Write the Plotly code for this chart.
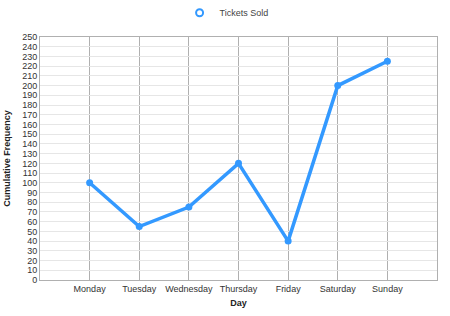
import plotly.graph_objects as go

days = ["Monday", "Tuesday", "Wednesday", "Thursday", "Friday", "Saturday", "Sunday"]
tickets = [100, 55, 75, 120, 40, 200, 225]
y_ticks = list(range(0, 251, 10))

blue = "#3399ff"
fig = go.Figure()
fig.add_trace(go.Scatter(
    x=days, y=tickets, mode="lines+markers", name="Tickets Sold",
    line=dict(color=blue, width=3.5),
    marker=dict(color=blue, size=7),
    showlegend=False,
))
fig.add_trace(go.Scatter(
    x=[None], y=[None], mode="markers", name="Tickets Sold",
    marker=dict(color="white", size=7, line=dict(color=blue, width=2)),
))

fig.update_layout(
    width=450, height=316,
    margin=dict(l=40, r=13, t=37, b=36, autoexpand=False),
    paper_bgcolor="white", plot_bgcolor="white",
    font=dict(family="Liberation Sans, Arial, sans-serif", size=9, color="#333"),
    showlegend=True,
    legend=dict(orientation="h", x=0.47, xanchor="center", y=1.1, yanchor="middle",
                itemwidth=30, font=dict(size=9, color="#444")),
    xaxis=dict(
        type="category", range=[-1, 7],
        showgrid=True, gridcolor="#b0b0b0", gridwidth=1,
        showline=True, linecolor="#b0b0b0", mirror=True,
        ticks="", tickfont=dict(size=9, color="#333"),
        title=dict(text="<b>Day</b>", font=dict(size=9, color="#222"), standoff=6),
        zeroline=False,
    ),
    yaxis=dict(
        range=[0, 250], tickvals=y_ticks, ticktext=[str(v) for v in y_ticks],
        showgrid=True, gridcolor="#e6e6e6", gridwidth=1,
        showline=True, linecolor="#b0b0b0", mirror=True,
        ticks="", tickfont=dict(size=9, color="#333"),
        title=dict(text="<b>Cumulative Frequency</b>", font=dict(size=9, color="#222"), standoff=10),
        zeroline=False,
    ),
)
fig.write_html("out.html")
